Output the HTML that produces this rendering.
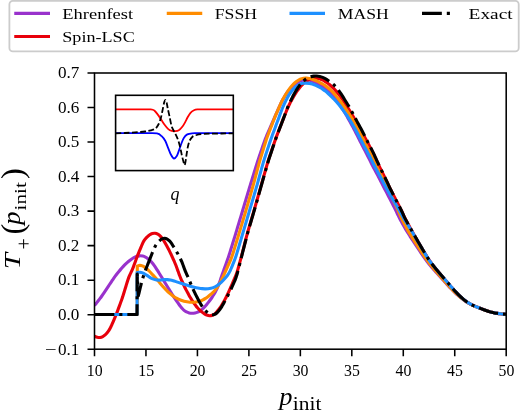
<!DOCTYPE html><html><head><meta charset="utf-8"><title>Transmission probability</title>
<style>html,body{margin:0;padding:0;background:#fff}svg{display:block}text{font-family:"Liberation Serif",serif;fill:#000}</style></head><body>
<svg width="520" height="412" viewBox="0 0 520 412">
<rect width="520" height="412" fill="#fff"/>
<defs><clipPath id="ax"><rect x="94.5" y="73" width="411.7" height="276.2"/></clipPath><clipPath id="in"><rect x="115.5" y="95.5" width="117.75" height="75.25"/></clipPath></defs>
<g clip-path="url(#ax)" fill="none" stroke-linejoin="round">
<path d="M94.50 305.50C94.82 305.11 95.76 303.95 96.39 303.17C97.02 302.39 97.65 301.62 98.27 300.83C98.88 300.04 99.49 299.25 100.08 298.45C100.67 297.64 101.24 296.82 101.81 296.00C102.38 295.18 102.93 294.34 103.49 293.51C104.05 292.68 104.60 291.85 105.15 291.02C105.71 290.19 106.26 289.35 106.82 288.52C107.37 287.69 107.93 286.86 108.48 286.03C109.04 285.19 109.59 284.36 110.15 283.53C110.70 282.70 111.26 281.86 111.81 281.03C112.37 280.21 112.93 279.37 113.50 278.55C114.07 277.73 114.64 276.91 115.23 276.11C115.82 275.30 116.43 274.51 117.05 273.73C117.67 272.94 118.29 272.16 118.93 271.39C119.57 270.62 120.22 269.86 120.87 269.11C121.53 268.35 122.20 267.61 122.88 266.88C123.56 266.15 124.25 265.42 124.95 264.72C125.66 264.01 126.38 263.32 127.12 262.65C127.87 261.99 128.62 261.33 129.40 260.71C130.18 260.10 130.98 259.49 131.81 258.95C132.63 258.40 133.48 257.87 134.36 257.43C135.24 256.99 136.14 256.58 137.06 256.31C137.99 256.05 138.95 255.86 139.89 255.83C140.84 255.79 141.81 255.89 142.74 256.10C143.67 256.31 144.59 256.66 145.45 257.08C146.31 257.50 147.14 258.05 147.92 258.64C148.70 259.22 149.44 259.89 150.14 260.59C150.84 261.29 151.49 262.04 152.12 262.81C152.76 263.57 153.36 264.37 153.95 265.18C154.54 265.98 155.10 266.81 155.66 267.64C156.21 268.47 156.74 269.32 157.28 270.16C157.81 271.00 158.34 271.85 158.87 272.70C159.40 273.55 159.93 274.40 160.45 275.25C160.98 276.10 161.51 276.95 162.03 277.80C162.55 278.66 163.07 279.51 163.59 280.36C164.11 281.22 164.63 282.07 165.14 282.93C165.66 283.79 166.18 284.64 166.69 285.50C167.21 286.36 167.72 287.21 168.24 288.07C168.76 288.92 169.28 289.78 169.81 290.63C170.34 291.48 170.87 292.32 171.41 293.16C171.95 294.01 172.44 294.78 173.03 295.69C173.63 296.59 174.36 297.71 174.97 298.60C175.57 299.50 176.09 300.26 176.66 301.08C177.24 301.90 177.81 302.71 178.40 303.52C178.98 304.34 179.56 305.16 180.16 305.95C180.76 306.74 181.35 307.55 182.00 308.29C182.65 309.03 183.32 309.77 184.06 310.38C184.81 311.00 185.62 311.56 186.47 311.98C187.33 312.41 188.26 312.73 189.20 312.95C190.13 313.16 191.12 313.26 192.09 313.26C193.05 313.26 194.04 313.16 194.99 312.97C195.93 312.77 196.87 312.47 197.75 312.09C198.64 311.71 199.49 311.20 200.31 310.66C201.12 310.12 201.91 309.50 202.65 308.86C203.40 308.21 204.09 307.50 204.77 306.77C205.45 306.05 206.10 305.28 206.73 304.52C207.37 303.75 207.99 302.96 208.60 302.17C209.20 301.38 209.79 300.57 210.37 299.76C210.95 298.94 211.52 298.12 212.07 297.29C212.63 296.46 213.19 295.63 213.71 294.78C214.23 293.93 214.73 293.07 215.20 292.19C215.67 291.31 216.10 290.41 216.53 289.51C216.96 288.61 217.36 287.69 217.76 286.78C218.15 285.86 218.54 284.94 218.91 284.01C219.27 283.08 219.61 282.14 219.95 281.20C220.28 280.26 220.59 279.31 220.91 278.36C221.23 277.41 221.54 276.46 221.86 275.52C222.19 274.57 222.52 273.63 222.85 272.68C223.18 271.74 223.52 270.80 223.86 269.86C224.20 268.92 224.54 267.98 224.88 267.04C225.22 266.10 225.56 265.16 225.90 264.21C226.24 263.27 226.58 262.33 226.92 261.39C227.25 260.45 227.59 259.51 227.91 258.56C228.24 257.62 228.55 256.67 228.86 255.72C229.17 254.77 229.47 253.81 229.77 252.86C230.07 251.91 230.36 250.95 230.66 249.99C230.95 249.04 231.25 248.08 231.54 247.13C231.84 246.17 232.13 245.22 232.43 244.26C232.72 243.31 233.02 242.35 233.31 241.40C233.61 240.44 233.91 239.48 234.20 238.53C234.49 237.57 234.79 236.62 235.08 235.66C235.37 234.71 235.67 233.75 235.96 232.79C236.25 231.83 236.53 230.88 236.82 229.92C237.11 228.96 237.40 228.00 237.68 227.05C237.97 226.09 238.26 225.13 238.54 224.17C238.83 223.21 239.12 222.26 239.41 221.30C239.69 220.34 239.98 219.38 240.27 218.42C240.55 217.47 240.84 216.51 241.13 215.55C241.41 214.59 241.70 213.63 241.99 212.68C242.28 211.72 242.56 210.76 242.85 209.80C243.14 208.85 243.42 207.89 243.71 206.93C244.00 205.97 244.29 205.01 244.58 204.06C244.86 203.10 245.15 202.14 245.44 201.18C245.73 200.23 246.01 199.27 246.30 198.31C246.59 197.35 246.88 196.39 247.16 195.44C247.45 194.48 247.74 193.52 248.03 192.56C248.32 191.61 248.60 190.65 248.89 189.69C249.18 188.73 249.47 187.78 249.76 186.82C250.05 185.86 250.34 184.91 250.63 183.95C250.93 182.99 251.22 182.04 251.51 181.08C251.81 180.13 252.10 179.17 252.40 178.21C252.69 177.26 252.98 176.30 253.28 175.35C253.57 174.39 253.87 173.44 254.16 172.48C254.45 171.52 254.75 170.57 255.04 169.61C255.34 168.66 255.63 167.70 255.93 166.74C256.22 165.79 256.52 164.83 256.82 163.88C257.12 162.93 257.42 161.97 257.73 161.02C258.04 160.07 258.36 159.13 258.68 158.18C259.00 157.23 259.32 156.28 259.65 155.34C259.97 154.39 260.30 153.45 260.62 152.50C260.95 151.55 261.27 150.61 261.60 149.66C261.92 148.72 262.24 147.77 262.57 146.83C262.89 145.88 263.22 144.93 263.55 143.99C263.87 143.04 264.20 142.10 264.53 141.16C264.87 140.22 265.21 139.28 265.57 138.34C265.93 137.41 266.31 136.49 266.69 135.56C267.07 134.64 267.47 133.72 267.87 132.81C268.27 131.89 268.67 130.97 269.07 130.06C269.47 129.14 269.87 128.22 270.27 127.31C270.67 126.39 271.07 125.47 271.47 124.56C271.87 123.64 272.27 122.72 272.67 121.81C273.07 120.89 273.47 119.97 273.87 119.06C274.27 118.14 274.64 117.30 275.08 116.31C275.52 115.32 276.06 114.10 276.50 113.11C276.94 112.13 277.32 111.29 277.73 110.38C278.14 109.47 278.55 108.55 278.96 107.64C279.37 106.73 279.78 105.82 280.20 104.91C280.61 104.00 281.03 103.09 281.47 102.19C281.91 101.30 282.36 100.41 282.84 99.53C283.31 98.66 283.82 97.79 284.33 96.94C284.85 96.08 285.37 95.23 285.92 94.39C286.46 93.55 287.00 92.72 287.58 91.91C288.17 91.10 288.77 90.31 289.40 89.54C290.03 88.77 290.69 88.01 291.37 87.29C292.06 86.57 292.77 85.87 293.51 85.22C294.26 84.57 295.05 83.96 295.86 83.39C296.67 82.82 297.51 82.28 298.37 81.80C299.24 81.33 300.13 80.89 301.05 80.57C301.96 80.24 302.92 79.99 303.87 79.87C304.83 79.74 305.82 79.74 306.79 79.81C307.75 79.88 308.73 80.07 309.69 80.30C310.65 80.53 311.60 80.84 312.53 81.18C313.46 81.52 314.37 81.92 315.28 82.34C316.18 82.77 317.06 83.23 317.93 83.71C318.81 84.19 319.67 84.70 320.52 85.23C321.37 85.75 322.21 86.28 323.04 86.84C323.86 87.40 324.68 87.98 325.47 88.58C326.27 89.19 327.04 89.82 327.80 90.47C328.55 91.11 329.30 91.78 330.02 92.47C330.74 93.16 331.44 93.87 332.12 94.60C332.80 95.33 333.47 96.07 334.12 96.83C334.77 97.59 335.41 98.36 336.02 99.14C336.64 99.93 337.23 100.74 337.80 101.55C338.38 102.37 338.92 103.20 339.47 104.04C340.02 104.88 340.55 105.72 341.08 106.57C341.61 107.42 342.14 108.27 342.67 109.12C343.19 109.97 343.72 110.82 344.23 111.68C344.75 112.53 345.26 113.39 345.76 114.26C346.26 115.12 346.75 115.99 347.24 116.86C347.73 117.73 348.22 118.61 348.70 119.48C349.19 120.36 349.67 121.23 350.16 122.11C350.64 122.98 351.12 123.86 351.60 124.74C352.08 125.61 352.56 126.49 353.04 127.37C353.51 128.25 353.99 129.13 354.45 130.01C354.92 130.90 355.38 131.79 355.83 132.68C356.28 133.57 356.73 134.47 357.18 135.36C357.62 136.25 358.07 137.15 358.51 138.05C358.96 138.94 359.41 139.84 359.86 140.73C360.30 141.62 360.76 142.51 361.21 143.41C361.66 144.30 362.12 145.19 362.58 146.07C363.04 146.96 363.50 147.85 363.96 148.74C364.42 149.62 364.89 150.51 365.36 151.39C365.82 152.28 366.28 153.16 366.74 154.05C367.20 154.94 367.65 155.84 368.10 156.73C368.54 157.62 368.98 158.52 369.43 159.42C369.87 160.31 370.31 161.21 370.76 162.11C371.20 163.00 371.65 163.90 372.10 164.79C372.56 165.68 373.02 166.57 373.48 167.45C373.94 168.34 374.42 169.22 374.89 170.10C375.36 170.98 375.83 171.86 376.31 172.75C376.78 173.63 377.25 174.51 377.72 175.39C378.18 176.28 378.65 177.16 379.11 178.05C379.57 178.94 380.02 179.83 380.48 180.72C380.93 181.61 381.38 182.50 381.84 183.39C382.29 184.28 382.75 185.18 383.21 186.06C383.67 186.95 384.13 187.84 384.59 188.72C385.06 189.61 385.53 190.49 385.99 191.38C386.45 192.26 386.92 193.15 387.38 194.04C387.84 194.92 388.29 195.81 388.75 196.70C389.21 197.59 389.67 198.48 390.13 199.37C390.59 200.25 391.05 201.14 391.52 202.03C391.98 202.91 392.45 203.80 392.91 204.69C393.37 205.57 393.84 206.46 394.29 207.35C394.75 208.24 395.20 209.13 395.64 210.03C396.07 210.93 396.50 211.83 396.92 212.74C397.35 213.64 397.76 214.55 398.19 215.46C398.61 216.36 399.04 217.26 399.49 218.16C399.94 219.05 400.41 219.93 400.88 220.81C401.36 221.69 401.85 222.56 402.34 223.43C402.83 224.30 403.32 225.17 403.82 226.04C404.31 226.91 404.80 227.78 405.31 228.64C405.81 229.51 406.32 230.37 406.84 231.22C407.36 232.07 407.89 232.92 408.43 233.77C408.96 234.61 409.50 235.45 410.04 236.29C410.58 237.13 411.08 237.90 411.67 238.81C412.26 239.72 412.99 240.84 413.58 241.74C414.17 242.65 414.68 243.42 415.23 244.25C415.78 245.09 416.33 245.92 416.88 246.76C417.43 247.59 417.98 248.42 418.54 249.26C419.09 250.09 419.64 250.92 420.20 251.75C420.76 252.59 421.31 253.42 421.87 254.25C422.43 255.08 422.98 255.91 423.55 256.73C424.12 257.55 424.70 258.37 425.29 259.17C425.88 259.98 426.49 260.77 427.10 261.56C427.71 262.35 428.34 263.13 428.97 263.91C429.59 264.69 430.22 265.46 430.86 266.23C431.50 267.00 432.15 267.76 432.80 268.52C433.45 269.28 434.12 270.03 434.78 270.78C435.44 271.52 436.11 272.27 436.77 273.01C437.44 273.76 438.11 274.50 438.78 275.24C439.45 275.99 440.13 276.73 440.80 277.47C441.47 278.21 442.14 278.94 442.82 279.69C443.49 280.43 444.16 281.17 444.83 281.91C445.50 282.65 446.16 283.40 446.83 284.14C447.50 284.88 448.17 285.63 448.85 286.36C449.53 287.10 450.21 287.83 450.90 288.55C451.60 289.26 452.31 289.97 453.02 290.67C453.73 291.37 454.45 292.06 455.18 292.75C455.91 293.43 456.64 294.11 457.39 294.78C458.13 295.45 458.89 296.10 459.65 296.75C460.41 297.39 461.18 298.03 461.97 298.64C462.75 299.26 463.55 299.86 464.36 300.44C465.18 301.01 466.01 301.56 466.86 302.09C467.70 302.62 468.57 303.12 469.44 303.61C470.31 304.09 471.20 304.54 472.10 304.97C473.00 305.40 473.92 305.79 474.84 306.18C475.76 306.56 476.69 306.92 477.62 307.29C478.55 307.66 479.48 308.02 480.41 308.38C481.35 308.74 482.28 309.10 483.22 309.45C484.15 309.80 485.09 310.14 486.04 310.46C486.98 310.79 487.93 311.12 488.88 311.41C489.83 311.71 490.79 312.00 491.75 312.25C492.72 312.50 493.69 312.71 494.67 312.90C495.65 313.09 496.64 313.24 497.62 313.39C498.61 313.54 499.61 313.68 500.58 313.79C501.55 313.91 502.52 314.00 503.46 314.09C504.40 314.17 505.74 314.26 506.20 314.30" stroke="#9932cc" stroke-width="3.1"/>
<path d="M94.50 336.30C94.96 336.46 96.33 337.06 97.27 337.25C98.20 337.45 99.17 337.56 100.10 337.45C101.02 337.35 101.95 337.03 102.80 336.61C103.64 336.19 104.44 335.58 105.16 334.93C105.89 334.29 106.55 333.52 107.17 332.76C107.80 331.99 108.38 331.17 108.92 330.34C109.46 329.51 109.95 328.65 110.42 327.76C110.88 326.88 111.28 325.97 111.69 325.06C112.10 324.15 112.49 323.23 112.88 322.31C113.28 321.39 113.68 320.47 114.07 319.55C114.47 318.63 114.86 317.72 115.25 316.79C115.63 315.87 116.02 314.95 116.38 314.02C116.75 313.09 117.10 312.15 117.45 311.22C117.80 310.28 118.15 309.34 118.49 308.40C118.84 307.46 119.18 306.52 119.53 305.59C119.87 304.65 120.22 303.71 120.56 302.77C120.91 301.83 121.25 300.89 121.59 299.95C121.92 299.01 122.25 298.07 122.57 297.12C122.88 296.17 123.18 295.21 123.48 294.26C123.78 293.31 124.07 292.35 124.36 291.39C124.65 290.44 124.95 289.48 125.24 288.52C125.53 287.57 125.82 286.61 126.11 285.65C126.40 284.70 126.69 283.74 126.99 282.78C127.28 281.83 127.57 280.87 127.88 279.92C128.20 278.97 128.52 278.03 128.88 277.10C129.25 276.18 129.66 275.27 130.08 274.36C130.49 273.45 130.95 272.56 131.37 271.65C131.79 270.75 132.21 269.84 132.60 268.92C132.98 268.00 133.34 267.07 133.69 266.13C134.04 265.20 134.38 264.25 134.72 263.31C135.06 262.37 135.39 261.43 135.73 260.49C136.07 259.55 136.41 258.61 136.76 257.67C137.11 256.73 137.46 255.80 137.82 254.87C138.19 253.94 138.57 253.01 138.95 252.09C139.32 251.16 139.71 250.24 140.10 249.32C140.48 248.39 140.86 247.47 141.25 246.55C141.64 245.63 142.01 244.69 142.43 243.79C142.85 242.89 143.25 241.98 143.76 241.14C144.27 240.30 144.85 239.51 145.48 238.75C146.11 238.00 146.81 237.27 147.53 236.60C148.25 235.92 148.98 235.23 149.78 234.72C150.58 234.20 151.46 233.74 152.35 233.50C153.24 233.26 154.22 233.17 155.13 233.28C156.03 233.39 156.95 233.72 157.78 234.16C158.60 234.60 159.36 235.25 160.07 235.92C160.78 236.58 161.43 237.35 162.04 238.13C162.65 238.90 163.21 239.73 163.74 240.57C164.28 241.41 164.76 242.29 165.26 243.15C165.75 244.02 166.23 244.90 166.71 245.77C167.20 246.65 167.68 247.52 168.15 248.41C168.62 249.29 169.08 250.18 169.52 251.07C169.96 251.97 170.38 252.88 170.80 253.78C171.22 254.69 171.63 255.60 172.05 256.51C172.46 257.42 172.88 258.33 173.29 259.24C173.70 260.16 174.12 261.06 174.51 261.98C174.91 262.90 175.30 263.82 175.67 264.75C176.04 265.68 176.38 266.62 176.73 267.55C177.07 268.49 177.40 269.44 177.74 270.38C178.08 271.32 178.41 272.26 178.76 273.20C179.10 274.14 179.44 275.08 179.81 276.01C180.18 276.94 180.57 277.86 180.96 278.77C181.36 279.69 181.77 280.60 182.18 281.51C182.59 282.43 183.01 283.34 183.42 284.25C183.84 285.16 184.24 286.07 184.67 286.97C185.10 287.88 185.53 288.78 185.98 289.67C186.44 290.56 186.91 291.44 187.39 292.31C187.87 293.19 188.36 294.06 188.85 294.93C189.35 295.80 189.79 296.61 190.34 297.54C190.89 298.47 191.58 299.61 192.16 300.52C192.75 301.43 193.28 302.18 193.86 302.99C194.43 303.81 195.01 304.63 195.61 305.42C196.22 306.22 196.82 307.01 197.48 307.76C198.13 308.51 198.83 309.22 199.54 309.91C200.26 310.60 201.00 311.28 201.77 311.90C202.54 312.52 203.34 313.12 204.18 313.64C205.01 314.16 205.90 314.67 206.78 315.02C207.67 315.37 208.59 315.70 209.50 315.74C210.40 315.79 211.33 315.62 212.20 315.31C213.06 315.00 213.91 314.46 214.68 313.89C215.45 313.31 216.13 312.58 216.80 311.86C217.47 311.14 218.09 310.35 218.71 309.56C219.32 308.78 219.92 307.98 220.48 307.16C221.04 306.34 221.56 305.48 222.07 304.63C222.59 303.77 223.06 302.89 223.55 302.02C224.04 301.14 224.52 300.27 224.99 299.39C225.47 298.51 225.94 297.63 226.39 296.74C226.84 295.84 227.26 294.94 227.69 294.03C228.11 293.13 228.52 292.21 228.93 291.30C229.34 290.39 229.74 289.48 230.15 288.56C230.56 287.65 230.96 286.74 231.36 285.82C231.77 284.90 232.16 283.99 232.56 283.07C232.96 282.15 233.35 281.23 233.75 280.31C234.14 279.40 234.54 278.48 234.93 277.56C235.32 276.64 235.72 275.72 236.08 274.79C236.44 273.86 236.79 272.92 237.10 271.97C237.41 271.03 237.68 270.06 237.96 269.10C238.24 268.14 238.49 267.18 238.76 266.21C239.02 265.25 239.29 264.28 239.55 263.32C239.81 262.36 240.08 261.39 240.34 260.43C240.60 259.46 240.87 258.50 241.12 257.53C241.38 256.56 241.63 255.60 241.88 254.63C242.13 253.66 242.38 252.69 242.63 251.72C242.88 250.75 243.13 249.78 243.37 248.82C243.62 247.85 243.87 246.88 244.12 245.91C244.37 244.94 244.62 243.97 244.86 243.00C245.11 242.04 245.36 241.07 245.61 240.10C245.86 239.13 246.10 238.16 246.36 237.19C246.61 236.22 246.86 235.26 247.12 234.29C247.38 233.33 247.65 232.36 247.92 231.40C248.20 230.44 248.48 229.48 248.76 228.52C249.04 227.56 249.32 226.60 249.61 225.64C249.89 224.68 250.17 223.72 250.45 222.76C250.73 221.80 251.01 220.84 251.29 219.89C251.58 218.93 251.86 217.97 252.14 217.01C252.42 216.05 252.70 215.09 252.98 214.13C253.26 213.17 253.55 212.21 253.83 211.25C254.10 210.29 254.38 209.33 254.66 208.37C254.93 207.41 255.21 206.44 255.48 205.48C255.75 204.52 256.03 203.56 256.30 202.60C256.57 201.63 256.84 200.67 257.12 199.71C257.39 198.75 257.66 197.78 257.93 196.82C258.21 195.86 258.48 194.90 258.75 193.94C259.02 192.97 259.30 192.01 259.57 191.05C259.84 190.09 260.11 189.13 260.39 188.16C260.66 187.20 260.93 186.24 261.21 185.28C261.48 184.31 261.75 183.35 262.02 182.39C262.30 181.43 262.57 180.47 262.84 179.50C263.11 178.54 263.39 177.58 263.66 176.62C263.93 175.66 264.20 174.69 264.48 173.73C264.75 172.77 265.02 171.81 265.29 170.84C265.57 169.88 265.84 168.92 266.11 167.96C266.39 167.00 266.66 166.03 266.93 165.07C267.21 164.11 267.49 163.15 267.78 162.20C268.07 161.24 268.37 160.29 268.68 159.34C268.99 158.38 269.31 157.44 269.63 156.49C269.95 155.54 270.27 154.60 270.59 153.65C270.92 152.70 271.24 151.75 271.56 150.81C271.88 149.86 272.20 148.91 272.52 147.97C272.84 147.02 273.16 146.07 273.48 145.13C273.81 144.18 274.12 143.23 274.45 142.28C274.77 141.34 275.09 140.39 275.43 139.45C275.76 138.51 276.10 137.57 276.45 136.63C276.80 135.69 277.16 134.76 277.52 133.83C277.88 132.89 278.24 131.96 278.60 131.03C278.96 130.10 279.32 129.16 279.68 128.23C280.04 127.30 280.41 126.37 280.77 125.43C281.13 124.50 281.49 123.57 281.85 122.64C282.21 121.70 282.57 120.77 282.93 119.84C283.29 118.91 283.65 117.97 284.02 117.04C284.38 116.11 284.75 115.18 285.12 114.25C285.49 113.32 285.87 112.40 286.25 111.47C286.63 110.55 287.00 109.62 287.40 108.70C287.79 107.78 288.18 106.86 288.61 105.96C289.03 105.05 289.48 104.16 289.94 103.28C290.40 102.39 290.89 101.52 291.37 100.64C291.84 99.76 292.32 98.88 292.81 98.01C293.30 97.14 293.78 96.26 294.29 95.40C294.80 94.54 295.33 93.70 295.88 92.86C296.43 92.03 297.01 91.21 297.59 90.40C298.17 89.59 298.75 88.78 299.37 87.99C299.98 87.21 300.61 86.43 301.27 85.69C301.94 84.94 302.62 84.21 303.34 83.53C304.06 82.85 304.81 82.19 305.61 81.61C306.41 81.03 307.26 80.51 308.13 80.05C309.00 79.59 309.92 79.17 310.84 78.86C311.77 78.55 312.73 78.28 313.69 78.17C314.64 78.07 315.62 78.09 316.58 78.21C317.54 78.32 318.52 78.58 319.46 78.87C320.40 79.16 321.33 79.54 322.23 79.94C323.13 80.35 324.02 80.82 324.88 81.31C325.74 81.81 326.59 82.35 327.40 82.92C328.21 83.50 328.99 84.12 329.75 84.76C330.51 85.41 331.24 86.09 331.96 86.78C332.68 87.47 333.39 88.18 334.08 88.90C334.76 89.63 335.43 90.37 336.08 91.13C336.73 91.89 337.35 92.67 337.97 93.45C338.59 94.24 339.21 95.03 339.81 95.82C340.41 96.62 340.99 97.44 341.57 98.25C342.14 99.07 342.70 99.90 343.27 100.72C343.83 101.55 344.39 102.38 344.94 103.21C345.49 104.05 346.04 104.88 346.58 105.72C347.12 106.56 347.65 107.41 348.19 108.26C348.72 109.10 349.26 109.94 349.79 110.79C350.32 111.64 350.84 112.49 351.36 113.35C351.87 114.21 352.37 115.07 352.88 115.94C353.38 116.80 353.87 117.67 354.37 118.54C354.87 119.41 355.36 120.27 355.86 121.14C356.36 122.01 356.86 122.88 357.35 123.74C357.85 124.61 358.35 125.48 358.85 126.34C359.35 127.21 359.85 128.08 360.34 128.95C360.82 129.82 361.31 130.70 361.78 131.58C362.26 132.45 362.73 133.34 363.19 134.22C363.66 135.11 364.12 136.00 364.58 136.88C365.05 137.77 365.51 138.65 365.98 139.54C366.44 140.42 366.91 141.31 367.38 142.19C367.85 143.07 368.33 143.95 368.80 144.83C369.27 145.71 369.75 146.59 370.22 147.47C370.70 148.35 371.17 149.24 371.63 150.12C372.09 151.01 372.55 151.90 372.99 152.80C373.43 153.69 373.86 154.59 374.29 155.50C374.72 156.40 375.13 157.31 375.55 158.22C375.97 159.13 376.38 160.04 376.80 160.95C377.22 161.86 377.60 162.69 378.06 163.67C378.52 164.65 379.09 165.86 379.56 166.83C380.03 167.81 380.45 168.63 380.89 169.52C381.34 170.42 381.79 171.31 382.24 172.20C382.69 173.10 383.14 173.99 383.58 174.88C384.02 175.78 384.46 176.68 384.90 177.58C385.34 178.48 385.76 179.38 386.19 180.28C386.62 181.19 387.05 182.09 387.48 183.00C387.91 183.90 388.33 184.80 388.77 185.70C389.20 186.61 389.64 187.50 390.09 188.40C390.53 189.29 390.99 190.18 391.44 191.07C391.90 191.96 392.35 192.85 392.81 193.74C393.26 194.63 393.72 195.53 394.17 196.42C394.63 197.31 395.08 198.20 395.54 199.09C396.00 199.98 396.46 200.87 396.91 201.75C397.37 202.64 397.84 203.53 398.30 204.42C398.76 205.30 399.22 206.19 399.67 207.08C400.13 207.97 400.58 208.86 401.02 209.76C401.46 210.66 401.88 211.57 402.30 212.48C402.71 213.38 403.12 214.30 403.54 215.21C403.95 216.11 404.37 217.02 404.81 217.92C405.26 218.81 405.72 219.70 406.19 220.58C406.66 221.46 407.16 222.33 407.64 223.20C408.13 224.08 408.62 224.95 409.11 225.82C409.60 226.69 410.08 227.57 410.57 228.44C411.05 229.32 411.54 230.19 412.02 231.07C412.51 231.94 413.00 232.81 413.49 233.68C413.99 234.55 414.48 235.42 414.98 236.29C415.47 237.16 415.97 238.03 416.46 238.89C416.96 239.76 417.47 240.62 417.97 241.49C418.47 242.35 418.98 243.22 419.48 244.08C419.99 244.94 420.49 245.80 421.00 246.67C421.51 247.53 422.01 248.39 422.52 249.25C423.03 250.11 423.54 250.97 424.05 251.83C424.56 252.69 425.07 253.55 425.59 254.41C426.10 255.27 426.61 256.13 427.14 256.98C427.67 257.82 428.20 258.67 428.76 259.49C429.32 260.32 429.91 261.13 430.50 261.93C431.10 262.74 431.70 263.53 432.31 264.33C432.91 265.12 433.52 265.92 434.14 266.70C434.76 267.49 435.39 268.27 436.02 269.04C436.66 269.81 437.30 270.57 437.95 271.34C438.59 272.10 439.24 272.87 439.89 273.63C440.53 274.39 441.18 275.15 441.84 275.91C442.49 276.66 443.14 277.42 443.80 278.18C444.45 278.93 445.10 279.69 445.76 280.45C446.41 281.21 447.06 281.97 447.71 282.73C448.35 283.49 449.00 284.25 449.65 285.01C450.30 285.78 450.94 286.54 451.60 287.29C452.26 288.04 452.93 288.79 453.60 289.53C454.27 290.27 454.95 291.00 455.64 291.73C456.32 292.46 457.01 293.19 457.71 293.90C458.41 294.61 459.12 295.31 459.84 296.01C460.56 296.70 461.29 297.38 462.04 298.04C462.78 298.71 463.53 299.37 464.31 299.99C465.09 300.62 465.89 301.21 466.71 301.77C467.53 302.34 468.37 302.88 469.23 303.40C470.08 303.91 470.95 304.40 471.84 304.85C472.73 305.29 473.64 305.68 474.56 306.07C475.48 306.46 476.42 306.82 477.35 307.18C478.28 307.55 479.21 307.92 480.14 308.28C481.07 308.64 482.00 309.01 482.94 309.35C483.88 309.70 484.82 310.05 485.76 310.38C486.70 310.71 487.65 311.03 488.60 311.34C489.55 311.64 490.50 311.95 491.46 312.21C492.43 312.46 493.40 312.68 494.38 312.87C495.36 313.06 496.35 313.21 497.33 313.36C498.32 313.51 499.31 313.65 500.30 313.77C501.29 313.89 502.28 313.99 503.27 314.08C504.25 314.17 505.71 314.26 506.20 314.30" stroke="#e8000b" stroke-width="3.1"/>
<path d="M94.50 314.50L137.30 314.50L137.30 266.00C137.72 265.89 139.00 265.36 139.85 265.35C140.70 265.33 141.56 265.59 142.40 265.93C143.25 266.26 144.11 266.83 144.93 267.37C145.74 267.91 146.53 268.53 147.28 269.18C148.03 269.82 148.71 270.55 149.41 271.26C150.11 271.97 150.78 272.72 151.46 273.45C152.14 274.18 152.81 274.92 153.49 275.66C154.17 276.39 154.84 277.13 155.51 277.87C156.18 278.62 156.84 279.37 157.50 280.12C158.15 280.87 158.80 281.63 159.45 282.39C160.11 283.15 160.75 283.91 161.40 284.67C162.06 285.43 162.70 286.20 163.36 286.95C164.02 287.70 164.68 288.45 165.37 289.17C166.06 289.89 166.77 290.59 167.49 291.28C168.22 291.96 168.97 292.62 169.73 293.27C170.49 293.92 171.26 294.56 172.05 295.16C172.84 295.77 173.64 296.37 174.47 296.92C175.30 297.47 176.16 297.98 177.04 298.44C177.92 298.91 178.82 299.33 179.74 299.70C180.66 300.08 181.61 300.41 182.56 300.70C183.51 300.99 184.48 301.25 185.45 301.47C186.42 301.68 187.40 301.87 188.39 302.00C189.38 302.13 190.37 302.23 191.36 302.27C192.35 302.30 193.35 302.28 194.34 302.20C195.33 302.12 196.32 301.99 197.28 301.79C198.25 301.59 199.22 301.33 200.15 301.01C201.09 300.69 202.02 300.32 202.90 299.88C203.79 299.45 204.64 298.93 205.48 298.39C206.31 297.86 207.12 297.27 207.92 296.67C208.71 296.07 209.49 295.44 210.26 294.80C211.02 294.16 211.77 293.49 212.49 292.81C213.22 292.12 213.93 291.43 214.59 290.69C215.25 289.95 215.85 289.16 216.44 288.35C217.03 287.55 217.58 286.71 218.12 285.87C218.66 285.04 219.18 284.18 219.68 283.32C220.17 282.45 220.64 281.57 221.09 280.68C221.55 279.79 221.99 278.89 222.43 277.99C222.87 277.10 223.29 276.19 223.71 275.28C224.13 274.38 224.54 273.46 224.95 272.55C225.36 271.64 225.77 270.73 226.18 269.81C226.59 268.90 227.00 267.99 227.41 267.08C227.82 266.17 228.23 265.25 228.64 264.34C229.05 263.43 229.46 262.52 229.86 261.60C230.27 260.69 230.68 259.78 231.05 258.85C231.43 257.93 231.78 256.99 232.12 256.05C232.45 255.11 232.74 254.15 233.04 253.20C233.34 252.25 233.63 251.29 233.92 250.33C234.21 249.38 234.51 248.42 234.80 247.46C235.09 246.51 235.38 245.55 235.67 244.59C235.96 243.64 236.25 242.68 236.55 241.72C236.84 240.77 237.13 239.81 237.42 238.86C237.71 237.90 238.00 236.94 238.29 235.99C238.58 235.03 238.87 234.07 239.16 233.11C239.45 232.16 239.74 231.20 240.03 230.24C240.31 229.28 240.60 228.32 240.89 227.37C241.17 226.41 241.46 225.45 241.75 224.49C242.04 223.54 242.32 222.58 242.61 221.62C242.90 220.66 243.18 219.70 243.47 218.75C243.76 217.79 244.04 216.83 244.33 215.87C244.62 214.91 244.91 213.96 245.19 213.00C245.48 212.04 245.76 211.08 246.05 210.12C246.33 209.16 246.61 208.20 246.89 207.24C247.17 206.28 247.44 205.32 247.72 204.36C248.00 203.40 248.27 202.44 248.55 201.48C248.83 200.52 249.10 199.56 249.38 198.59C249.65 197.63 249.93 196.67 250.21 195.71C250.48 194.75 250.76 193.79 251.04 192.83C251.31 191.87 251.59 190.91 251.86 189.94C252.14 188.98 252.42 188.02 252.68 187.06C252.95 186.10 253.22 185.13 253.48 184.17C253.75 183.20 254.00 182.24 254.26 181.27C254.52 180.30 254.78 179.34 255.04 178.37C255.30 177.41 255.55 176.44 255.81 175.47C256.07 174.51 256.33 173.54 256.59 172.58C256.85 171.61 257.10 170.64 257.36 169.68C257.62 168.71 257.88 167.74 258.14 166.78C258.40 165.81 258.65 164.85 258.92 163.88C259.18 162.92 259.45 161.95 259.73 160.99C260.01 160.03 260.30 159.08 260.59 158.12C260.88 157.16 261.17 156.21 261.47 155.25C261.76 154.30 262.06 153.34 262.35 152.39C262.65 151.43 262.94 150.48 263.24 149.52C263.54 148.57 263.83 147.61 264.13 146.65C264.42 145.70 264.72 144.74 265.01 143.79C265.31 142.83 265.60 141.88 265.91 140.92C266.21 139.97 266.52 139.02 266.85 138.08C267.17 137.13 267.52 136.20 267.87 135.26C268.22 134.32 268.58 133.39 268.94 132.46C269.30 131.52 269.66 130.59 270.02 129.66C270.38 128.73 270.74 127.79 271.10 126.86C271.46 125.93 271.82 124.99 272.19 124.06C272.55 123.13 272.90 122.20 273.27 121.26C273.63 120.33 273.99 119.40 274.36 118.47C274.72 117.54 275.10 116.61 275.48 115.69C275.87 114.77 276.26 113.85 276.66 112.93C277.06 112.01 277.47 111.10 277.87 110.19C278.28 109.27 278.68 108.36 279.09 107.44C279.49 106.53 279.89 105.61 280.30 104.70C280.71 103.79 281.11 102.87 281.54 101.97C281.96 101.07 282.40 100.17 282.87 99.29C283.34 98.41 283.84 97.55 284.35 96.69C284.86 95.83 285.39 94.98 285.92 94.13C286.45 93.28 286.97 92.43 287.53 91.60C288.08 90.77 288.65 89.95 289.24 89.14C289.83 88.34 290.44 87.55 291.08 86.78C291.71 86.01 292.35 85.24 293.04 84.52C293.73 83.81 294.46 83.13 295.22 82.50C295.98 81.87 296.78 81.26 297.61 80.72C298.43 80.18 299.21 79.67 300.18 79.25C301.15 78.83 302.41 78.42 303.44 78.22C304.47 78.02 305.39 78.02 306.37 78.05C307.34 78.08 308.33 78.24 309.30 78.43C310.27 78.61 311.24 78.87 312.19 79.17C313.14 79.46 314.07 79.83 314.99 80.20C315.91 80.58 316.82 81.00 317.72 81.43C318.62 81.86 319.51 82.32 320.39 82.80C321.27 83.27 322.15 83.75 323.00 84.26C323.86 84.77 324.70 85.30 325.52 85.87C326.33 86.44 327.12 87.06 327.90 87.68C328.68 88.31 329.44 88.95 330.18 89.62C330.92 90.29 331.63 91.00 332.33 91.71C333.02 92.42 333.70 93.16 334.37 93.90C335.04 94.64 335.71 95.38 336.35 96.15C336.99 96.92 337.61 97.70 338.22 98.49C338.83 99.28 339.42 100.09 340.01 100.90C340.60 101.70 341.19 102.51 341.78 103.32C342.36 104.13 342.94 104.95 343.52 105.76C344.09 106.58 344.66 107.40 345.23 108.22C345.80 109.04 346.38 109.86 346.94 110.69C347.51 111.51 348.07 112.34 348.63 113.17C349.18 114.00 349.72 114.84 350.26 115.69C350.80 116.53 351.33 117.37 351.86 118.22C352.38 119.08 352.90 119.93 353.40 120.80C353.91 121.66 354.40 122.53 354.89 123.40C355.38 124.27 355.86 125.15 356.35 126.02C356.83 126.90 357.32 127.77 357.79 128.65C358.27 129.53 358.74 130.41 359.21 131.30C359.67 132.18 360.12 133.07 360.58 133.96C361.03 134.86 361.48 135.75 361.93 136.64C362.38 137.54 362.83 138.43 363.28 139.32C363.73 140.21 364.18 141.11 364.64 142.00C365.09 142.89 365.55 143.77 366.01 144.66C366.47 145.55 366.94 146.43 367.40 147.32C367.86 148.21 368.33 149.09 368.78 149.98C369.24 150.87 369.70 151.76 370.15 152.66C370.59 153.55 371.03 154.45 371.46 155.35C371.89 156.25 372.32 157.16 372.74 158.07C373.16 158.97 373.58 159.88 374.01 160.79C374.43 161.69 374.85 162.60 375.28 163.50C375.71 164.41 376.14 165.31 376.58 166.21C377.02 167.10 377.47 168.00 377.92 168.89C378.37 169.78 378.82 170.67 379.28 171.56C379.73 172.45 380.19 173.34 380.64 174.24C381.09 175.13 381.54 176.02 381.98 176.92C382.43 177.81 382.86 178.71 383.30 179.61C383.73 180.51 384.17 181.42 384.60 182.32C385.03 183.22 385.47 184.12 385.90 185.02C386.34 185.92 386.78 186.82 387.22 187.71C387.66 188.61 388.11 189.50 388.55 190.40C389.00 191.30 389.43 192.20 389.87 193.10C390.30 194.00 390.73 194.90 391.16 195.81C391.59 196.71 392.02 197.61 392.45 198.51C392.88 199.42 393.31 200.32 393.75 201.22C394.18 202.12 394.62 203.02 395.05 203.92C395.49 204.82 395.93 205.72 396.36 206.62C396.79 207.52 397.22 208.42 397.63 209.33C398.05 210.24 398.45 211.16 398.84 212.08C399.24 213.00 399.61 213.92 400.00 214.84C400.39 215.76 400.78 216.69 401.19 217.60C401.60 218.51 402.04 219.41 402.48 220.30C402.93 221.20 403.40 222.08 403.86 222.97C404.32 223.85 404.79 224.74 405.25 225.62C405.72 226.50 406.18 227.39 406.66 228.27C407.14 229.15 407.62 230.02 408.12 230.89C408.62 231.75 409.14 232.60 409.67 233.45C410.19 234.31 410.72 235.15 411.25 236.00C411.78 236.85 412.31 237.70 412.85 238.54C413.38 239.39 413.92 240.23 414.45 241.07C414.99 241.92 415.53 242.76 416.07 243.60C416.61 244.44 417.15 245.28 417.70 246.12C418.24 246.97 418.78 247.81 419.32 248.65C419.86 249.49 420.41 250.32 420.95 251.16C421.50 252.00 422.04 252.84 422.59 253.68C423.14 254.51 423.68 255.35 424.24 256.18C424.79 257.02 425.34 257.85 425.92 258.67C426.49 259.48 427.08 260.29 427.69 261.09C428.29 261.89 428.90 262.67 429.52 263.46C430.13 264.25 430.75 265.04 431.38 265.82C432.00 266.60 432.63 267.37 433.27 268.14C433.91 268.91 434.57 269.66 435.22 270.42C435.87 271.18 436.53 271.93 437.18 272.69C437.84 273.44 438.50 274.19 439.16 274.95C439.82 275.70 440.48 276.44 441.15 277.19C441.81 277.94 442.48 278.69 443.14 279.44C443.80 280.19 444.46 280.94 445.12 281.69C445.78 282.44 446.44 283.19 447.10 283.94C447.76 284.70 448.41 285.45 449.08 286.20C449.74 286.94 450.41 287.69 451.09 288.42C451.78 289.14 452.48 289.85 453.19 290.56C453.89 291.27 454.61 291.97 455.33 292.66C456.05 293.36 456.77 294.05 457.51 294.72C458.25 295.40 459.00 296.06 459.75 296.71C460.51 297.36 461.27 298.01 462.05 298.63C462.83 299.26 463.62 299.88 464.43 300.46C465.24 301.04 466.07 301.58 466.92 302.11C467.76 302.65 468.62 303.16 469.49 303.65C470.36 304.13 471.24 304.60 472.14 305.03C473.04 305.45 473.97 305.83 474.89 306.21C475.81 306.59 476.75 306.95 477.68 307.32C478.61 307.68 479.54 308.05 480.47 308.41C481.40 308.77 482.34 309.13 483.27 309.48C484.21 309.83 485.15 310.16 486.10 310.49C487.04 310.82 487.99 311.15 488.94 311.45C489.89 311.75 490.84 312.05 491.81 312.30C492.77 312.54 493.75 312.75 494.73 312.93C495.71 313.12 496.70 313.26 497.69 313.41C498.67 313.56 499.68 313.70 500.65 313.82C501.63 313.93 502.62 314.03 503.54 314.11C504.47 314.19 505.76 314.27 506.20 314.30" stroke="#ff8c00" stroke-width="3.1"/>
<path d="M94.50 314.50L137.10 314.50L137.10 272.60C137.56 272.55 138.96 272.23 139.87 272.28C140.79 272.33 141.70 272.58 142.59 272.90C143.48 273.23 144.36 273.74 145.21 274.24C146.06 274.73 146.87 275.33 147.70 275.88C148.53 276.43 149.32 277.05 150.17 277.55C151.02 278.05 151.89 278.51 152.80 278.88C153.71 279.24 154.67 279.54 155.62 279.74C156.58 279.95 157.55 280.07 158.53 280.10C159.51 280.13 160.49 280.00 161.48 279.93C162.47 279.85 163.46 279.71 164.45 279.66C165.44 279.61 166.44 279.58 167.43 279.63C168.42 279.69 169.41 279.79 170.38 279.97C171.35 280.15 172.31 280.43 173.26 280.71C174.22 280.99 175.16 281.33 176.11 281.65C177.05 281.96 178.00 282.30 178.95 282.61C179.90 282.93 180.85 283.24 181.80 283.55C182.75 283.85 183.70 284.15 184.66 284.44C185.61 284.74 186.57 285.03 187.53 285.32C188.48 285.61 189.44 285.91 190.40 286.18C191.36 286.46 192.32 286.74 193.29 286.99C194.26 287.24 195.22 287.49 196.20 287.71C197.17 287.92 198.15 288.12 199.14 288.27C200.12 288.43 201.12 288.57 202.11 288.66C203.10 288.75 204.10 288.82 205.09 288.84C206.09 288.85 207.08 288.84 208.07 288.74C209.05 288.64 210.04 288.48 210.99 288.25C211.95 288.02 212.91 287.72 213.82 287.35C214.72 286.98 215.60 286.52 216.45 286.01C217.29 285.50 218.11 284.91 218.89 284.31C219.68 283.71 220.44 283.06 221.18 282.39C221.91 281.72 222.60 281.00 223.29 280.27C223.97 279.55 224.65 278.81 225.29 278.05C225.94 277.29 226.58 276.52 227.17 275.72C227.76 274.92 228.33 274.09 228.84 273.24C229.35 272.39 229.79 271.59 230.25 270.62C230.72 269.65 231.22 268.41 231.64 267.41C232.05 266.41 232.38 265.56 232.76 264.63C233.13 263.70 233.51 262.78 233.87 261.85C234.24 260.92 234.62 259.99 234.96 259.05C235.31 258.12 235.65 257.18 235.96 256.23C236.28 255.28 236.57 254.32 236.86 253.37C237.15 252.41 237.43 251.45 237.72 250.49C238.00 249.53 238.28 248.57 238.57 247.62C238.85 246.66 239.14 245.70 239.42 244.74C239.70 243.78 239.99 242.82 240.27 241.86C240.56 240.90 240.84 239.94 241.12 238.99C241.41 238.03 241.69 237.07 241.98 236.11C242.26 235.15 242.54 234.19 242.83 233.23C243.11 232.27 243.39 231.31 243.68 230.36C243.96 229.40 244.24 228.44 244.53 227.48C244.81 226.52 245.09 225.56 245.38 224.60C245.66 223.64 245.94 222.68 246.23 221.72C246.51 220.77 246.79 219.81 247.08 218.85C247.36 217.89 247.65 216.93 247.93 215.97C248.21 215.01 248.50 214.05 248.78 213.09C249.06 212.13 249.35 211.18 249.63 210.22C249.91 209.26 250.20 208.30 250.48 207.34C250.76 206.38 251.05 205.42 251.33 204.46C251.62 203.50 251.90 202.55 252.18 201.59C252.47 200.63 252.75 199.67 253.04 198.71C253.32 197.75 253.60 196.79 253.89 195.83C254.17 194.87 254.46 193.92 254.74 192.96C255.02 192.00 255.31 191.04 255.59 190.08C255.87 189.12 256.16 188.16 256.43 187.20C256.71 186.24 256.99 185.28 257.26 184.32C257.53 183.35 257.79 182.39 258.06 181.43C258.33 180.46 258.59 179.50 258.86 178.53C259.12 177.57 259.39 176.61 259.65 175.64C259.92 174.68 260.18 173.71 260.45 172.75C260.71 171.78 260.98 170.82 261.24 169.86C261.51 168.89 261.77 167.93 262.04 166.96C262.31 166.00 262.57 165.04 262.84 164.07C263.12 163.11 263.39 162.15 263.68 161.19C263.97 160.24 264.28 159.29 264.59 158.33C264.89 157.38 265.21 156.43 265.52 155.48C265.84 154.53 266.15 153.59 266.46 152.64C266.78 151.69 267.09 150.74 267.40 149.79C267.72 148.84 268.03 147.89 268.35 146.94C268.66 145.99 268.97 145.04 269.29 144.09C269.60 143.14 269.91 142.19 270.23 141.24C270.55 140.30 270.87 139.35 271.20 138.40C271.53 137.46 271.87 136.52 272.21 135.58C272.55 134.64 272.90 133.70 273.25 132.77C273.60 131.83 273.95 130.89 274.30 129.95C274.65 129.02 275.00 128.08 275.35 127.14C275.70 126.21 276.04 125.27 276.39 124.33C276.74 123.40 277.09 122.46 277.44 121.52C277.79 120.58 278.14 119.65 278.49 118.71C278.84 117.77 279.19 116.84 279.53 115.90C279.88 114.96 280.23 114.02 280.57 113.08C280.92 112.15 281.26 111.21 281.62 110.27C281.97 109.34 282.32 108.40 282.70 107.48C283.09 106.56 283.49 105.64 283.91 104.74C284.33 103.83 284.77 102.93 285.21 102.04C285.65 101.14 286.10 100.24 286.55 99.35C287.01 98.46 287.45 97.57 287.94 96.70C288.44 95.83 288.96 94.99 289.51 94.16C290.06 93.33 290.65 92.52 291.25 91.72C291.86 90.93 292.47 90.14 293.13 89.40C293.79 88.66 294.49 87.95 295.23 87.29C295.97 86.64 296.75 86.00 297.57 85.47C298.39 84.93 299.25 84.44 300.15 84.08C301.05 83.72 302.02 83.48 302.98 83.31C303.95 83.15 304.87 83.09 305.94 83.10C307.01 83.11 308.34 83.21 309.40 83.35C310.46 83.50 311.35 83.71 312.29 83.98C313.24 84.26 314.17 84.63 315.08 85.01C316.00 85.40 316.90 85.85 317.78 86.31C318.66 86.77 319.52 87.28 320.38 87.79C321.24 88.30 322.09 88.82 322.92 89.37C323.75 89.93 324.57 90.49 325.36 91.10C326.15 91.71 326.91 92.36 327.66 93.01C328.42 93.67 329.15 94.34 329.88 95.03C330.61 95.71 331.32 96.41 332.03 97.12C332.74 97.82 333.43 98.54 334.12 99.26C334.81 99.99 335.50 100.71 336.17 101.45C336.84 102.20 337.50 102.95 338.14 103.71C338.78 104.48 339.40 105.27 340.01 106.06C340.62 106.85 341.22 107.65 341.82 108.45C342.41 109.25 343.01 110.06 343.60 110.86C344.20 111.67 344.79 112.47 345.37 113.29C345.95 114.10 346.52 114.92 347.09 115.74C347.65 116.57 348.22 117.39 348.77 118.23C349.31 119.07 349.85 119.91 350.37 120.76C350.90 121.61 351.39 122.48 351.90 123.34C352.40 124.21 352.89 125.08 353.38 125.95C353.88 126.82 354.37 127.69 354.86 128.56C355.35 129.43 355.83 130.31 356.30 131.19C356.77 132.07 357.24 132.96 357.70 133.84C358.16 134.73 358.62 135.62 359.08 136.51C359.54 137.40 360.00 138.28 360.46 139.17C360.92 140.06 361.38 140.95 361.84 141.83C362.31 142.72 362.78 143.60 363.25 144.48C363.72 145.37 364.19 146.25 364.66 147.13C365.14 148.01 365.61 148.89 366.09 149.77C366.56 150.65 367.04 151.53 367.51 152.41C367.99 153.29 368.45 154.17 368.91 155.06C369.37 155.95 369.82 156.84 370.27 157.73C370.73 158.63 371.17 159.52 371.62 160.41C372.07 161.31 372.52 162.20 372.97 163.09C373.43 163.98 373.88 164.87 374.35 165.76C374.81 166.64 375.29 167.52 375.76 168.40C376.24 169.28 376.72 170.16 377.20 171.04C377.68 171.91 378.16 172.79 378.64 173.67C379.12 174.55 379.59 175.43 380.07 176.31C380.54 177.19 381.00 178.07 381.47 178.96C381.93 179.85 382.39 180.73 382.85 181.62C383.31 182.51 383.77 183.40 384.23 184.28C384.70 185.17 385.16 186.06 385.63 186.94C386.10 187.82 386.59 188.70 387.08 189.57C387.57 190.44 388.08 191.30 388.58 192.16C389.09 193.02 389.60 193.88 390.11 194.74C390.62 195.60 391.13 196.46 391.64 197.32C392.15 198.18 392.66 199.04 393.17 199.90C393.69 200.76 394.20 201.62 394.72 202.47C395.23 203.33 395.75 204.19 396.26 205.04C396.78 205.90 397.30 206.76 397.80 207.62C398.31 208.48 398.82 209.34 399.31 210.21C399.80 211.08 400.27 211.96 400.75 212.84C401.23 213.72 401.69 214.61 402.17 215.49C402.64 216.36 403.12 217.24 403.62 218.11C404.12 218.97 404.64 219.82 405.17 220.67C405.70 221.52 406.24 222.36 406.78 223.20C407.32 224.05 407.87 224.88 408.40 225.73C408.94 226.57 409.48 227.41 410.01 228.26C410.53 229.11 411.05 229.97 411.56 230.83C412.07 231.69 412.57 232.55 413.08 233.42C413.58 234.28 414.08 235.15 414.58 236.01C415.08 236.88 415.58 237.74 416.09 238.61C416.59 239.47 417.10 240.33 417.61 241.19C418.12 242.05 418.63 242.91 419.14 243.77C419.65 244.63 420.16 245.49 420.68 246.35C421.19 247.21 421.70 248.07 422.22 248.92C422.73 249.78 423.25 250.64 423.76 251.49C424.28 252.35 424.75 253.13 425.32 254.06C425.88 254.98 426.57 256.13 427.15 257.04C427.73 257.96 428.22 258.73 428.79 259.55C429.35 260.37 429.94 261.18 430.54 261.98C431.13 262.79 431.74 263.58 432.34 264.38C432.95 265.17 433.56 265.97 434.18 266.75C434.79 267.54 435.42 268.31 436.06 269.09C436.69 269.86 437.34 270.62 437.99 271.39C438.63 272.15 439.28 272.91 439.93 273.67C440.57 274.43 441.22 275.19 441.88 275.95C442.53 276.71 443.18 277.47 443.84 278.22C444.49 278.98 445.14 279.74 445.80 280.50C446.45 281.25 447.10 282.01 447.75 282.78C448.39 283.54 449.04 284.30 449.69 285.06C450.34 285.82 450.98 286.58 451.64 287.34C452.30 288.09 452.97 288.84 453.64 289.58C454.31 290.31 454.99 291.05 455.68 291.77C456.36 292.50 457.05 293.23 457.75 293.94C458.45 294.65 459.16 295.36 459.89 296.05C460.61 296.74 461.34 297.42 462.08 298.09C462.83 298.75 463.58 299.41 464.36 300.03C465.14 300.65 465.94 301.24 466.76 301.81C467.58 302.37 468.42 302.92 469.28 303.43C470.13 303.94 471.00 304.43 471.89 304.88C472.78 305.32 473.70 305.71 474.62 306.10C475.54 306.48 476.47 306.84 477.40 307.21C478.33 307.57 479.26 307.94 480.20 308.30C481.13 308.66 482.06 309.03 483.00 309.38C483.93 309.73 484.87 310.07 485.82 310.40C486.76 310.73 487.71 311.05 488.66 311.36C489.61 311.66 490.56 311.97 491.52 312.22C492.49 312.48 493.46 312.69 494.44 312.88C495.42 313.07 496.41 313.22 497.39 313.37C498.38 313.52 499.38 313.66 500.36 313.78C501.35 313.90 502.34 314.00 503.31 314.09C504.29 314.17 505.72 314.26 506.20 314.30" stroke="#1e90ff" stroke-width="3.1"/>
<path d="M94.50 314.50L137.00 314.50L137.20 274.00L138.30 296.00C138.42 295.51 138.77 294.05 139.00 293.08C139.23 292.11 139.46 291.14 139.70 290.16C139.93 289.19 140.16 288.22 140.40 287.25C140.63 286.28 140.86 285.30 141.10 284.33C141.34 283.36 141.59 282.39 141.85 281.43C142.11 280.46 142.40 279.50 142.68 278.55C142.97 277.59 143.26 276.63 143.57 275.68C143.87 274.73 144.19 273.78 144.53 272.84C144.86 271.90 145.21 270.96 145.56 270.02C145.91 269.09 146.26 268.15 146.63 267.22C146.99 266.29 147.36 265.36 147.73 264.43C148.10 263.50 148.47 262.57 148.84 261.64C149.21 260.71 149.58 259.78 149.94 258.85C150.31 257.92 150.67 256.99 151.03 256.06C151.40 255.13 151.75 254.19 152.13 253.27C152.50 252.34 152.88 251.41 153.27 250.49C153.67 249.58 154.06 248.65 154.49 247.76C154.93 246.86 155.34 245.95 155.87 245.11C156.39 244.27 156.99 243.48 157.62 242.72C158.25 241.96 158.92 241.18 159.64 240.54C160.37 239.89 161.15 239.25 161.98 238.87C162.82 238.48 163.79 238.21 164.67 238.24C165.54 238.28 166.42 238.65 167.23 239.09C168.03 239.54 168.82 240.22 169.50 240.91C170.19 241.60 170.77 242.41 171.35 243.22C171.93 244.02 172.43 244.89 172.97 245.74C173.50 246.58 174.02 247.44 174.55 248.29C175.07 249.14 175.59 250.00 176.10 250.85C176.61 251.71 177.13 252.57 177.62 253.44C178.10 254.31 178.57 255.20 179.03 256.08C179.49 256.97 179.94 257.87 180.38 258.77C180.81 259.66 181.25 260.56 181.65 261.48C182.04 262.40 182.40 263.33 182.75 264.26C183.11 265.20 183.44 266.14 183.78 267.08C184.13 268.02 184.46 268.96 184.83 269.89C185.20 270.82 185.58 271.74 185.98 272.66C186.38 273.57 186.81 274.48 187.22 275.39C187.63 276.30 188.04 277.21 188.43 278.13C188.82 279.05 189.19 279.98 189.57 280.91C189.95 281.83 190.32 282.76 190.70 283.69C191.08 284.61 191.46 285.54 191.85 286.46C192.24 287.38 192.62 288.31 193.03 289.22C193.44 290.13 193.87 291.03 194.31 291.93C194.75 292.82 195.22 293.71 195.68 294.60C196.13 295.48 196.59 296.37 197.05 297.26C197.51 298.15 197.97 299.04 198.43 299.92C198.90 300.81 199.37 301.69 199.86 302.56C200.34 303.44 200.83 304.31 201.36 305.16C201.88 306.01 202.42 306.85 203.01 307.65C203.60 308.45 204.24 309.22 204.90 309.96C205.56 310.70 206.24 311.45 206.98 312.10C207.72 312.75 208.51 313.40 209.34 313.85C210.17 314.30 211.07 314.72 211.95 314.80C212.83 314.88 213.79 314.67 214.63 314.32C215.47 313.96 216.27 313.33 217.01 312.70C217.74 312.07 218.39 311.28 219.02 310.52C219.65 309.75 220.22 308.93 220.78 308.11C221.34 307.28 221.84 306.41 222.35 305.56C222.87 304.70 223.38 303.84 223.87 302.97C224.36 302.10 224.84 301.22 225.31 300.34C225.79 299.46 226.25 298.57 226.71 297.69C227.18 296.80 227.64 295.91 228.10 295.03C228.56 294.14 229.03 293.25 229.47 292.36C229.92 291.47 230.36 290.57 230.79 289.66C231.21 288.76 231.62 287.85 232.04 286.94C232.46 286.03 232.87 285.12 233.28 284.21C233.69 283.30 234.12 282.39 234.50 281.47C234.89 280.55 235.26 279.62 235.61 278.68C235.95 277.75 236.26 276.80 236.57 275.84C236.87 274.89 237.15 273.93 237.41 272.97C237.68 272.01 237.92 271.03 238.17 270.07C238.42 269.10 238.66 268.13 238.91 267.16C239.15 266.19 239.40 265.22 239.64 264.25C239.89 263.28 240.13 262.31 240.38 261.34C240.62 260.37 240.87 259.40 241.11 258.43C241.36 257.46 241.61 256.49 241.86 255.53C242.10 254.56 242.35 253.59 242.60 252.62C242.85 251.65 243.10 250.68 243.34 249.71C243.59 248.74 243.84 247.78 244.09 246.81C244.34 245.84 244.59 244.87 244.83 243.90C245.08 242.93 245.33 241.96 245.58 241.00C245.83 240.03 246.07 239.06 246.32 238.09C246.57 237.12 246.82 236.15 247.08 235.18C247.33 234.22 247.60 233.25 247.87 232.29C248.14 231.33 248.42 230.37 248.70 229.41C248.98 228.45 249.26 227.49 249.54 226.53C249.83 225.57 250.11 224.61 250.39 223.65C250.67 222.69 250.95 221.73 251.23 220.77C251.52 219.81 251.80 218.85 252.08 217.90C252.36 216.94 252.64 215.98 252.92 215.02C253.20 214.06 253.49 213.10 253.77 212.14C254.05 211.18 254.33 210.22 254.60 209.26C254.88 208.30 255.16 207.33 255.43 206.37C255.70 205.41 255.97 204.45 256.25 203.49C256.52 202.52 256.79 201.56 257.06 200.60C257.34 199.64 257.61 198.68 257.88 197.71C258.15 196.75 258.43 195.79 258.70 194.83C258.97 193.86 259.24 192.90 259.52 191.94C259.79 190.98 260.06 190.02 260.33 189.05C260.61 188.09 260.88 187.13 261.15 186.17C261.43 185.21 261.70 184.24 261.97 183.28C262.24 182.32 262.52 181.36 262.79 180.39C263.06 179.43 263.33 178.47 263.61 177.51C263.88 176.55 264.15 175.58 264.42 174.62C264.70 173.66 264.97 172.70 265.24 171.74C265.52 170.77 265.79 169.81 266.06 168.85C266.33 167.89 266.60 166.92 266.88 165.96C267.15 165.00 267.42 164.04 267.71 163.08C267.99 162.12 268.28 161.16 268.58 160.21C268.88 159.26 269.20 158.31 269.52 157.36C269.83 156.41 270.15 155.47 270.47 154.52C270.79 153.57 271.11 152.62 271.42 151.67C271.74 150.72 272.06 149.78 272.38 148.83C272.69 147.88 273.01 146.93 273.33 145.98C273.65 145.03 273.96 144.09 274.28 143.14C274.60 142.19 274.91 141.24 275.24 140.29C275.56 139.35 275.89 138.40 276.23 137.46C276.57 136.52 276.93 135.59 277.28 134.66C277.64 133.72 278.00 132.79 278.35 131.85C278.71 130.92 279.07 129.99 279.43 129.05C279.78 128.12 280.14 127.18 280.50 126.25C280.86 125.32 281.22 124.38 281.57 123.45C281.93 122.51 282.29 121.58 282.65 120.65C283.00 119.71 283.36 118.78 283.72 117.85C284.08 116.91 284.43 115.98 284.79 115.04C285.14 114.11 285.49 113.17 285.84 112.23C286.19 111.29 286.53 110.35 286.88 109.42C287.23 108.48 287.57 107.54 287.95 106.62C288.32 105.69 288.72 104.78 289.14 103.87C289.56 102.96 290.01 102.07 290.45 101.17C290.89 100.27 291.33 99.38 291.78 98.48C292.23 97.59 292.66 96.69 293.12 95.80C293.58 94.91 294.05 94.03 294.54 93.16C295.04 92.29 295.57 91.45 296.09 90.60C296.62 89.75 297.15 88.90 297.70 88.06C298.25 87.23 298.79 86.39 299.39 85.60C299.99 84.80 300.64 84.04 301.30 83.29C301.95 82.54 302.61 81.78 303.33 81.10C304.05 80.42 304.81 79.78 305.62 79.22C306.43 78.66 307.31 78.17 308.20 77.75C309.09 77.32 310.01 76.95 310.96 76.67C311.90 76.40 312.89 76.21 313.87 76.10C314.85 75.99 315.84 75.96 316.82 76.03C317.80 76.10 318.79 76.28 319.75 76.51C320.71 76.74 321.66 77.05 322.57 77.42C323.49 77.79 324.38 78.25 325.26 78.72C326.14 79.19 327.00 79.70 327.84 80.24C328.68 80.78 329.48 81.37 330.29 81.96C331.09 82.56 331.89 83.16 332.64 83.81C333.40 84.45 334.14 85.13 334.84 85.84C335.54 86.54 336.20 87.29 336.84 88.06C337.47 88.83 338.05 89.64 338.64 90.45C339.23 91.25 339.81 92.07 340.38 92.90C340.94 93.72 341.50 94.55 342.05 95.39C342.59 96.23 343.11 97.08 343.63 97.93C344.16 98.78 344.67 99.64 345.20 100.49C345.73 101.34 346.27 102.18 346.80 103.03C347.33 103.87 347.86 104.72 348.37 105.57C348.89 106.43 349.38 107.30 349.88 108.17C350.37 109.04 350.87 109.91 351.36 110.78C351.85 111.65 352.34 112.52 352.81 113.40C353.28 114.28 353.74 115.17 354.20 116.06C354.66 116.95 355.10 117.84 355.57 118.73C356.03 119.62 356.50 120.50 356.97 121.38C357.45 122.26 357.93 123.13 358.42 124.01C358.90 124.89 359.38 125.76 359.87 126.64C360.35 127.51 360.83 128.39 361.31 129.27C361.78 130.15 362.24 131.03 362.70 131.92C363.16 132.81 363.60 133.71 364.05 134.60C364.50 135.50 364.95 136.39 365.39 137.29C365.84 138.18 366.29 139.07 366.74 139.97C367.19 140.86 367.64 141.75 368.09 142.64C368.55 143.53 369.01 144.42 369.47 145.31C369.93 146.20 370.39 147.08 370.85 147.97C371.30 148.86 371.76 149.75 372.21 150.64C372.66 151.54 373.11 152.43 373.54 153.33C373.97 154.24 374.39 155.14 374.81 156.05C375.23 156.96 375.63 157.87 376.04 158.79C376.45 159.70 376.86 160.61 377.28 161.52C377.69 162.43 378.09 163.35 378.51 164.25C378.93 165.16 379.36 166.07 379.79 166.97C380.22 167.87 380.67 168.76 381.11 169.66C381.56 170.56 382.00 171.45 382.44 172.35C382.89 173.25 383.33 174.14 383.77 175.04C384.21 175.94 384.65 176.84 385.08 177.74C385.50 178.64 385.93 179.55 386.35 180.46C386.77 181.36 387.19 182.27 387.62 183.18C388.04 184.08 388.46 184.99 388.89 185.89C389.31 186.80 389.75 187.70 390.19 188.60C390.63 189.49 391.09 190.38 391.55 191.27C392.00 192.16 392.46 193.05 392.91 193.94C393.37 194.83 393.82 195.72 394.27 196.61C394.73 197.51 395.18 198.40 395.64 199.29C396.10 200.18 396.56 201.06 397.02 201.95C397.48 202.84 397.94 203.73 398.40 204.61C398.86 205.50 399.33 206.39 399.78 207.28C400.23 208.17 400.69 209.06 401.13 209.96C401.56 210.86 401.98 211.77 402.39 212.68C402.81 213.58 403.21 214.50 403.62 215.41C404.04 216.32 404.45 217.23 404.89 218.13C405.34 219.02 405.81 219.90 406.29 220.78C406.77 221.66 407.26 222.53 407.75 223.40C408.24 224.27 408.73 225.14 409.22 226.01C409.71 226.89 410.19 227.76 410.68 228.64C411.16 229.51 411.64 230.39 412.13 231.26C412.62 232.13 413.11 233.00 413.60 233.87C414.10 234.74 414.59 235.61 415.08 236.48C415.58 237.35 416.07 238.22 416.57 239.09C417.07 239.95 417.58 240.82 418.08 241.68C418.58 242.54 419.09 243.41 419.59 244.27C420.10 245.13 420.61 246.00 421.11 246.86C421.62 247.72 422.12 248.58 422.63 249.44C423.14 250.30 423.65 251.16 424.16 252.02C424.68 252.88 425.19 253.74 425.70 254.60C426.21 255.46 426.72 256.32 427.24 257.17C427.77 258.02 428.31 258.86 428.87 259.69C429.43 260.51 430.04 261.31 430.63 262.11C431.23 262.92 431.83 263.71 432.44 264.51C433.05 265.30 433.65 266.10 434.27 266.89C434.89 267.67 435.52 268.44 436.16 269.21C436.79 269.98 437.44 270.75 438.09 271.51C438.73 272.27 439.38 273.04 440.03 273.80C440.68 274.56 441.33 275.32 441.98 276.08C442.63 276.83 443.29 277.59 443.94 278.35C444.60 279.10 445.25 279.86 445.90 280.62C446.55 281.38 447.20 282.14 447.85 282.90C448.50 283.66 449.14 284.42 449.79 285.19C450.44 285.95 451.08 286.71 451.74 287.46C452.40 288.22 453.07 288.96 453.74 289.70C454.42 290.44 455.10 291.17 455.79 291.89C456.47 292.62 457.15 293.35 457.86 294.07C458.56 294.78 459.27 295.48 459.99 296.17C460.72 296.86 461.45 297.54 462.20 298.20C462.94 298.87 463.68 299.54 464.46 300.16C465.24 300.78 466.06 301.35 466.88 301.91C467.71 302.48 468.55 303.02 469.40 303.53C470.26 304.04 471.12 304.54 472.02 304.98C472.91 305.42 473.84 305.79 474.76 306.17C475.69 306.55 476.62 306.90 477.55 307.27C478.48 307.63 479.41 308.00 480.35 308.36C481.28 308.72 482.21 309.09 483.15 309.44C484.08 309.79 485.02 310.13 485.97 310.46C486.91 310.78 487.86 311.11 488.81 311.42C489.76 311.72 490.71 312.04 491.67 312.30C492.63 312.55 493.61 312.74 494.59 312.93C495.57 313.11 496.57 313.25 497.55 313.40C498.54 313.55 499.54 313.70 500.52 313.82C501.51 313.94 502.52 314.03 503.47 314.11C504.41 314.19 505.74 314.27 506.20 314.30" stroke="#000" stroke-width="3.1" stroke-dasharray="19.84 4.96 3.1 4.96"/>
</g>
<rect x="115.5" y="95.5" width="117.75" height="75.25" fill="#fff"/>
<g clip-path="url(#in)" fill="none" stroke-width="1.8">
<path d="M115.50 109.30C119.58 109.30 134.12 109.28 140.00 109.30C145.88 109.32 148.42 109.20 150.80 109.40C153.18 109.60 153.13 109.63 154.30 110.50C155.47 111.37 156.63 113.05 157.80 114.60C158.97 116.15 160.13 118.07 161.30 119.80C162.47 121.53 163.63 123.45 164.80 125.00C165.97 126.55 167.13 128.12 168.30 129.10C169.47 130.08 170.63 130.55 171.80 130.90C172.97 131.25 174.13 131.30 175.30 131.20C176.47 131.10 177.63 131.03 178.80 130.30C179.97 129.57 181.23 128.17 182.30 126.80C183.37 125.43 184.33 123.65 185.20 122.10C186.07 120.55 186.62 119.05 187.50 117.50C188.38 115.95 189.42 114.02 190.50 112.80C191.58 111.58 192.85 110.77 194.00 110.20C195.15 109.63 195.57 109.55 197.40 109.40C199.23 109.25 199.03 109.32 205.00 109.30C210.97 109.28 228.54 109.30 233.25 109.30" stroke="#f00"/>
<path d="M115.50 133.20C120.42 133.20 138.08 133.17 145.00 133.20C151.92 133.23 154.22 132.90 157.00 133.40C159.78 133.90 160.33 134.97 161.70 136.20C163.07 137.43 164.13 138.87 165.20 140.80C166.27 142.73 167.13 145.47 168.10 147.80C169.07 150.13 170.03 153.02 171.00 154.80C171.97 156.58 172.93 158.30 173.90 158.50C174.87 158.70 175.93 157.40 176.80 156.00C177.67 154.60 178.32 152.23 179.10 150.10C179.88 147.97 180.72 145.23 181.50 143.20C182.28 141.17 182.83 139.37 183.80 137.90C184.77 136.43 185.93 135.17 187.30 134.40C188.67 133.63 189.88 133.50 192.00 133.30C194.12 133.10 193.12 133.22 200.00 133.20C206.88 133.18 227.71 133.20 233.25 133.20" stroke="#00f"/>
<path d="M115.50 133.40C117.08 133.33 121.75 133.17 125.00 133.00C128.25 132.83 131.67 132.65 135.00 132.40C138.33 132.15 142.37 131.85 145.00 131.50C147.63 131.15 149.05 130.80 150.80 130.30C152.55 129.80 154.23 129.47 155.50 128.50C156.77 127.53 157.53 126.15 158.40 124.50C159.27 122.85 160.02 120.93 160.70 118.60C161.38 116.27 161.92 113.22 162.50 110.50C163.08 107.78 163.72 104.08 164.20 102.30C164.68 100.52 165.00 99.80 165.40 99.80C165.80 99.80 166.22 100.90 166.60 102.30C166.98 103.70 167.22 105.87 167.70 108.20C168.18 110.53 168.82 113.20 169.50 116.30C170.18 119.40 170.87 123.98 171.80 126.80C172.73 129.62 174.07 131.05 175.10 133.20C176.13 135.35 177.13 137.27 178.00 139.70C178.87 142.13 179.63 145.08 180.30 147.80C180.97 150.52 181.42 153.47 182.00 156.00C182.58 158.53 183.37 161.48 183.80 163.00C184.23 164.52 184.32 165.30 184.60 165.10C184.88 164.90 185.15 163.72 185.50 161.80C185.85 159.88 186.30 156.13 186.70 153.60C187.10 151.07 187.42 148.73 187.90 146.60C188.38 144.47 188.83 142.45 189.60 140.80C190.37 139.15 191.33 137.67 192.50 136.70C193.67 135.73 194.95 135.43 196.60 135.00C198.25 134.57 200.17 134.32 202.40 134.10C204.63 133.88 206.73 133.80 210.00 133.70C213.27 133.60 218.12 133.55 222.00 133.50C225.88 133.45 231.38 133.42 233.25 133.40" stroke="#000" stroke-dasharray="5.75 2.5"/>
</g>
<rect x="115.6" y="95.3" width="117.7" height="75.3" fill="none" stroke="#000" stroke-width="1.6"/>
<text x="175.1" y="199.9" font-size="18" font-style="italic" text-anchor="middle">q</text>
<rect x="94.5" y="73" width="411.7" height="276.2" fill="none" stroke="#000" stroke-width="1.55"/>
<text x="94.70" y="375.6" font-size="15.8" text-anchor="middle" textLength="15.8" lengthAdjust="spacingAndGlyphs">10</text>
<text x="146.16" y="375.6" font-size="15.8" text-anchor="middle" textLength="15.8" lengthAdjust="spacingAndGlyphs">15</text>
<text x="197.62" y="375.6" font-size="15.8" text-anchor="middle" textLength="15.8" lengthAdjust="spacingAndGlyphs">20</text>
<text x="249.09" y="375.6" font-size="15.8" text-anchor="middle" textLength="15.8" lengthAdjust="spacingAndGlyphs">25</text>
<text x="300.55" y="375.6" font-size="15.8" text-anchor="middle" textLength="15.8" lengthAdjust="spacingAndGlyphs">30</text>
<text x="352.01" y="375.6" font-size="15.8" text-anchor="middle" textLength="15.8" lengthAdjust="spacingAndGlyphs">35</text>
<text x="403.48" y="375.6" font-size="15.8" text-anchor="middle" textLength="15.8" lengthAdjust="spacingAndGlyphs">40</text>
<text x="454.94" y="375.6" font-size="15.8" text-anchor="middle" textLength="15.8" lengthAdjust="spacingAndGlyphs">45</text>
<text x="506.40" y="375.6" font-size="15.8" text-anchor="middle" textLength="15.8" lengthAdjust="spacingAndGlyphs">50</text>
<text x="58" y="354.50" font-size="15.8" textLength="21.4" lengthAdjust="spacingAndGlyphs">0.1</text>
<text x="45.1" y="354.50" font-size="15.8" textLength="11.6" lengthAdjust="spacingAndGlyphs">−</text>
<text x="58" y="319.98" font-size="15.8" textLength="21.4" lengthAdjust="spacingAndGlyphs">0.0</text>
<text x="58" y="285.45" font-size="15.8" textLength="21.4" lengthAdjust="spacingAndGlyphs">0.1</text>
<text x="58" y="250.93" font-size="15.8" textLength="21.4" lengthAdjust="spacingAndGlyphs">0.2</text>
<text x="58" y="216.40" font-size="15.8" textLength="21.4" lengthAdjust="spacingAndGlyphs">0.3</text>
<text x="58" y="181.88" font-size="15.8" textLength="21.4" lengthAdjust="spacingAndGlyphs">0.4</text>
<text x="58" y="147.35" font-size="15.8" textLength="21.4" lengthAdjust="spacingAndGlyphs">0.5</text>
<text x="58" y="112.83" font-size="15.8" textLength="21.4" lengthAdjust="spacingAndGlyphs">0.6</text>
<text x="58" y="78.30" font-size="15.8" textLength="21.4" lengthAdjust="spacingAndGlyphs">0.7</text>
<path d="M94.50 349.2v7M145.96 349.2v7M197.43 349.2v7M248.89 349.2v7M300.35 349.2v7M351.81 349.2v7M403.28 349.2v7M454.74 349.2v7M506.20 349.2v7M94.5 349.20h-7M94.5 314.68h-7M94.5 280.15h-7M94.5 245.62h-7M94.5 211.10h-7M94.5 176.57h-7M94.5 142.05h-7M94.5 107.53h-7M94.5 73.00h-7" stroke="#000" stroke-width="1.55" fill="none"/>
<text x="279.3" y="404.5" font-size="25" font-style="italic" textLength="13.2" lengthAdjust="spacingAndGlyphs">p</text>
<text x="292.8" y="410" font-size="18.3" textLength="28.6" lengthAdjust="spacingAndGlyphs">init</text>
<g transform="translate(19.7 268.4) rotate(-90)">
<text x="-0.9" y="0" font-size="24" font-style="italic" textLength="16.2" lengthAdjust="spacingAndGlyphs">T</text>
<text x="18.9" y="11.4" font-size="20">+</text>
<text x="34" y="3.1" font-size="32.6">(</text>
<text x="43.6" y="0" font-size="25" font-style="italic" textLength="13.2" lengthAdjust="spacingAndGlyphs">p</text>
<text x="57.9" y="6" font-size="17.5" textLength="28.3" lengthAdjust="spacingAndGlyphs">init</text>
<text x="89.5" y="3.1" font-size="32.6">)</text>
</g>
<rect x="9.4" y="0.9" width="509.3" height="50.4" rx="3.4" ry="3.4" fill="#fff" stroke="#ccc" stroke-width="1.8"/>
<g fill="none" stroke-width="3.1">
<path d="M14.25 13.4h35.75" stroke="#9932cc"/>
<path d="M14.25 36.5h35.75" stroke="#e8000b"/>
<path d="M166.75 13.4h35.5" stroke="#ff8c00"/>
<path d="M289.5 13.4h35.5" stroke="#1e90ff"/>
<path d="M422 13.4h32.8" stroke="#000" stroke-width="3.1" stroke-dasharray="19.84 4.96 3.1 4.96"/>
</g>
<text x="62.3" y="18.6" font-size="15.6" textLength="70.8" lengthAdjust="spacingAndGlyphs">Ehrenfest</text>
<text x="62.3" y="41.8" font-size="15.6" textLength="72.4" lengthAdjust="spacingAndGlyphs">Spin-LSC</text>
<text x="214.8" y="18.6" font-size="15.6" textLength="42.2" lengthAdjust="spacingAndGlyphs">FSSH</text>
<text x="337.8" y="18.6" font-size="15.6" textLength="51" lengthAdjust="spacingAndGlyphs">MASH</text>
<text x="468.6" y="18.6" font-size="15.6" textLength="44" lengthAdjust="spacingAndGlyphs">Exact</text>
</svg></body></html>
